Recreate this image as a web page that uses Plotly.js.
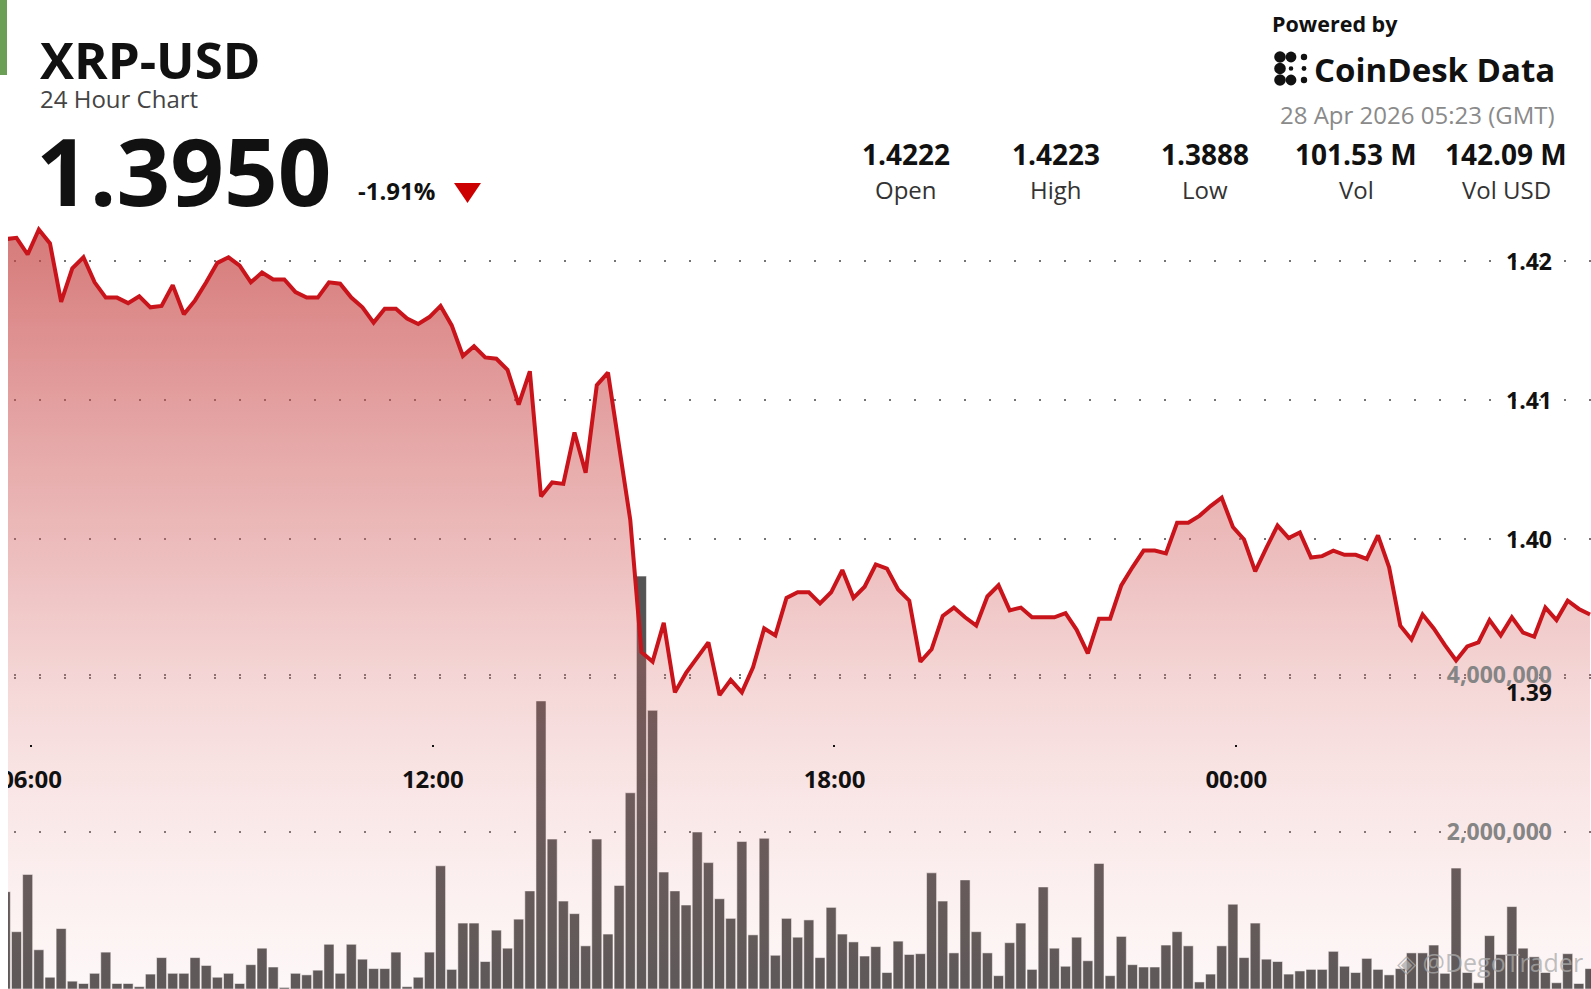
<!DOCTYPE html>
<html>
<head>
<meta charset="utf-8">
<script src="https://cdn.plot.ly/plotly-3.0.1.min.js"></script>
<style>
html,body{margin:0;padding:0;background:#ffffff;}
#chart{width:1591px;height:989px;}
</style>
</head>
<body>
<div id="chart"></div>
<script>
// ---------------- DATA ----------------
const START = '2026-04-27T05:37:00Z';   // first 10-minute sample (index 0 of both series)
const STEP_MIN = 10;

// XRP-USD price, one value per 10-minute step
const price = [
 1.4216,
 1.4217, 1.4205, 1.4223, 1.4213, 1.4171, 1.4195, 1.4203, 1.4185, 1.4174, 1.4174,
 1.4170, 1.4175, 1.4167, 1.4168, 1.4183, 1.4162, 1.4172, 1.4185, 1.4199, 1.4203,
 1.4197, 1.4185, 1.4192, 1.4187, 1.4187, 1.4178, 1.4174, 1.4174, 1.4185, 1.4184,
 1.4174, 1.4167, 1.4156, 1.4166, 1.4166, 1.4159, 1.4155, 1.4160, 1.4168, 1.4154,
 1.4132, 1.4139, 1.4131, 1.4130, 1.4122, 1.4097, 1.4121, 1.4031, 1.4041, 1.4040,
 1.4077, 1.4048, 1.4111, 1.4120, 1.4068, 1.4014, 1.3919, 1.3912, 1.3940, 1.3890,
 1.3904, 1.3915, 1.3926, 1.3888, 1.3899, 1.3890, 1.3908, 1.3936, 1.3931, 1.3958,
 1.3962, 1.3962, 1.3954, 1.3962, 1.3978, 1.3958, 1.3966, 1.3982, 1.3979, 1.3964,
 1.3956, 1.3912, 1.3921, 1.3945, 1.3951, 1.3944, 1.3938, 1.3959, 1.3967, 1.3949,
 1.3951, 1.3944, 1.3944, 1.3944, 1.3947, 1.3935, 1.3918, 1.3943, 1.3943, 1.3967,
 1.3980, 1.3992, 1.3992, 1.3990, 1.4012, 1.4012, 1.4017, 1.4024, 1.4030, 1.4009,
 1.4000, 1.3977, 1.3994, 1.4010, 1.4001, 1.4005, 1.3987, 1.3988, 1.3992, 1.3989,
 1.3989, 1.3986, 1.4003, 1.3980, 1.3938, 1.3928, 1.3946, 1.3936, 1.3924, 1.3913,
 1.3923, 1.3926, 1.3942, 1.3931, 1.3944, 1.3933, 1.3930, 1.3951, 1.3942, 1.3956,
 1.3950, 1.3946
];

// Volume per 10-minute bar, in millions
const volumeM = [
 1.24,
 0.73, 1.46, 0.50, 0.15, 0.77, 0.10, 0.07, 0.20, 0.47, 0.07,
 0.07, 0.03, 0.19, 0.40, 0.20, 0.20, 0.40, 0.30, 0.15, 0.20,
 0.07, 0.31, 0.52, 0.28, 0.02, 0.20, 0.18, 0.24, 0.57, 0.20,
 0.57, 0.38, 0.26, 0.26, 0.47, 0.03, 0.15, 0.47, 1.57, 0.25,
 0.84, 0.84, 0.35, 0.75, 0.52, 0.89, 1.25, 3.67, 1.91, 1.12,
 0.96, 0.55, 1.91, 0.70, 1.32, 2.50, 5.26, 3.55, 1.49, 1.25,
 1.07, 2.00, 1.61, 1.15, 0.90, 1.88, 0.69, 1.92, 0.43, 0.90,
 0.66, 0.88, 0.40, 1.04, 0.70, 0.60, 0.42, 0.54, 0.21, 0.61,
 0.44, 0.45, 1.48, 1.12, 0.46, 1.39, 0.73, 0.46, 0.17, 0.59,
 0.84, 0.25, 1.30, 0.52, 0.29, 0.66, 0.36, 1.60, 0.17, 0.67,
 0.31, 0.28, 0.28, 0.56, 0.73, 0.55, 0.09, 0.19, 0.55, 1.08,
 0.40, 0.84, 0.38, 0.35, 0.19, 0.23, 0.25, 0.25, 0.48, 0.29,
 0.21, 0.39, 0.25, 0.18, 0.26, 0.46, 0.46, 0.56, 0.20, 1.54,
 0.21, 0.08, 0.68, 0.44, 1.05, 0.52, 0.41, 0.21, 0.08, 0.45,
 0.07, 0.26
];

const xTickVals = ['2026-04-27 06:00', '2026-04-27 12:00', '2026-04-27 18:00', '2026-04-28 00:00'];
const xTickText = ['06:00', '12:00', '18:00', '00:00'];
const priceTickVals = [1.39, 1.40, 1.41, 1.42];
const priceTickText = ['<br>1.39', '1.40', '1.41', '1.42'];
const volTickVals = [2000000, 4000000];
const volTickText = ['2,000,000', '4,000,000'];

const statValues = ['1.4222', '1.4223', '1.3888', '101.53 M', '142.09 M'];
const statLabels = ['Open', 'High', 'Low', 'Vol', 'Vol USD'];

// ---------------- BUILD ----------------
function ts(i) {
  const d = new Date(Date.parse(START) + i * STEP_MIN * 60000);
  return d.toISOString().slice(0, 19).replace('T', ' ');
}
const priceTimes = price.map((_, i) => ts(i));
const volTimes = volumeM.map((_, i) => ts(i));
const volume = volumeM.map(v => v * 1e6);

const W = 1591, H = 989;
const px = x => x / W;
const py = y => 1 - y / H;
const FONT = 'Open Sans, Noto Sans, sans-serif';

const PMIN = 1.36766, PMAX = 1.43881;
const GSTOP = 1.4223;
const f = p => (p - PMIN) / (GSTOP - PMIN);

const traces = [
  {
    type: 'bar', x: volTimes, y: volume, yaxis: 'y', xaxis: 'x',
    marker: { color: 'rgb(84,84,84)', line: { width: 1, color: 'rgba(255,255,255,0.55)' } },
    hoverinfo: 'skip'
  },
  {
    type: 'scatter', mode: 'lines', x: priceTimes, y: price, yaxis: 'y2', xaxis: 'x',
    line: { color: '#c8141a', width: 4 },
    fill: 'tozeroy',
    fillgradient: {
      type: 'vertical', start: PMIN, stop: GSTOP,
      colorscale: [
        [0, 'rgba(235,150,150,0.07)'],
        [f(1.37766), 'rgba(228,128,128,0.15)'],
        [f(1.38845), 'rgba(218,105,105,0.25)'],
        [f(1.39853), 'rgba(210,90,90,0.39)'],
        [f(1.40644), 'rgba(205,80,80,0.49)'],
        [f(1.41723), 'rgba(200,70,70,0.64)'],
        [1, 'rgba(195,65,65,0.70)']
      ]
    },
    hoverinfo: 'skip'
  }
];

const gridStyle = {
  showgrid: true, gridcolor: 'rgba(70,70,70,0.75)', gridwidth: 2,
  griddash: '0px,6px,2px,17px', zeroline: false, showline: false, ticks: ''
};

const ann = [];
function addText(text, x, y, size, color, xanchor, bold, boxH) {
  const a = {
    xref: 'paper', yref: 'paper', x: px(x), y: py(y), xanchor: xanchor, yanchor: 'middle',
    text: bold ? '<b>' + text + '</b>' : text, showarrow: false,
    font: { family: FONT, size: size, color: color }
  };
  if (boxH) { a.height = boxH; a.valign = 'middle'; }
  ann.push(a);
}
addText('XRP-USD', 38, 59, 51, '#111111', 'left', true, 40);
addText('24 Hour Chart', 38, 98, 24, '#444444', 'left', false, 22);
addText('1.3950', 34, 170, 94, '#111111', 'left', true, 76);
addText('-1.91%', 356, 191, 24, '#111111', 'left', true);
addText('Powered by', 1270, 23, 21.5, '#111111', 'left', true);
addText('CoinDesk Data', 1312, 69, 33, '#111111', 'left', true);
addText('28 Apr 2026 05:23 (GMT)', 1557, 114, 24, '#8a8a8a', 'right', false);
const statX = [906, 1056, 1205, 1356, 1506];
statValues.forEach((v, i) => addText(v, statX[i], 154, 28, '#111111', 'center', true));
statLabels.forEach((v, i) => addText(v, statX[i], 189, 24, '#333333', 'center', false));
ann.push({
  xref: 'paper', yref: 'paper', x: px(1585), y: py(962), xanchor: 'right', yanchor: 'middle',
  text: '◈ @DegoTrader', showarrow: false,
  font: { family: FONT, size: 25, color: 'rgba(170,170,170,0.75)' }
});

const shapes = [
  { type: 'rect', xref: 'paper', yref: 'paper', x0: 0, x1: px(8), y0: 0, y1: 1,
    fillcolor: '#ffffff', line: { width: 0 }, layer: 'above' },
  { type: 'rect', xref: 'paper', yref: 'paper', x0: 0, x1: px(7), y0: py(75), y1: 1,
    fillcolor: '#6a9f55', line: { width: 0 }, layer: 'above' },
  { type: 'path', xref: 'paper', yref: 'paper',
    path: `M${px(454)},${py(183)} L${px(481)},${py(183)} L${px(467.5)},${py(203)} Z`,
    fillcolor: '#cc0000', line: { width: 0 }, layer: 'above' }
];
const blobs = [[1280, 57, 5.8], [1291, 57, 5.4], [1280, 68.5, 5.8], [1280, 80, 5.8], [1291, 80, 5.4],
               [1291, 68.5, 2.3], [1304, 57, 3.2], [1304, 68.5, 2.4], [1304, 80, 3.2]];
blobs.forEach(b => shapes.push({
  type: 'circle', xref: 'paper', yref: 'paper',
  x0: px(b[0] - b[2]), x1: px(b[0] + b[2]), y0: py(b[1] + b[2]), y1: py(b[1] - b[2]),
  fillcolor: '#111111', line: { width: 0 }, layer: 'above'
}));

const layout = {
  width: W, height: H, margin: { l: 0, r: 0, t: 0, b: 0 },
  paper_bgcolor: '#ffffff', plot_bgcolor: '#ffffff', showlegend: false,
  bargap: 0.1,
  xaxis: {
    type: 'date', domain: [8 / W, 1],
    range: ['2026-04-27 05:39:23', '2026-04-28 05:17:54'],
    anchor: 'free', position: 1 - 744 / H,
    tickvals: xTickVals, ticktext: xTickText,
    ticks: 'outside', ticklen: 2, tickwidth: 2, tickcolor: '#111111',
    showgrid: false, zeroline: false, showline: false,
    ticklabelstandoff: 12,
    tickfont: { family: FONT, size: 24, color: '#111111', weight: 'bold' }
  },
  yaxis: Object.assign({
    range: [0, 12.599e6], side: 'right',
    tickvals: volTickVals, ticktext: volTickText,
    ticklabelposition: 'inside', ticklabelstandoff: 36,
    tickfont: { family: FONT, size: 23, color: '#858585', weight: 'bold' }
  }, gridStyle),
  yaxis2: Object.assign({
    range: [PMIN, PMAX], side: 'right', overlaying: 'y',
    tickvals: priceTickVals, ticktext: priceTickText,
    ticklabelposition: 'inside', ticklabelstandoff: 36,
    tickfont: { family: FONT, size: 23, color: '#111111', weight: 'bold' }
  }, gridStyle),
  annotations: ann,
  shapes: shapes
};

Plotly.newPlot('chart', traces, layout, { staticPlot: true, displayModeBar: false });
</script>
</body>
</html>
